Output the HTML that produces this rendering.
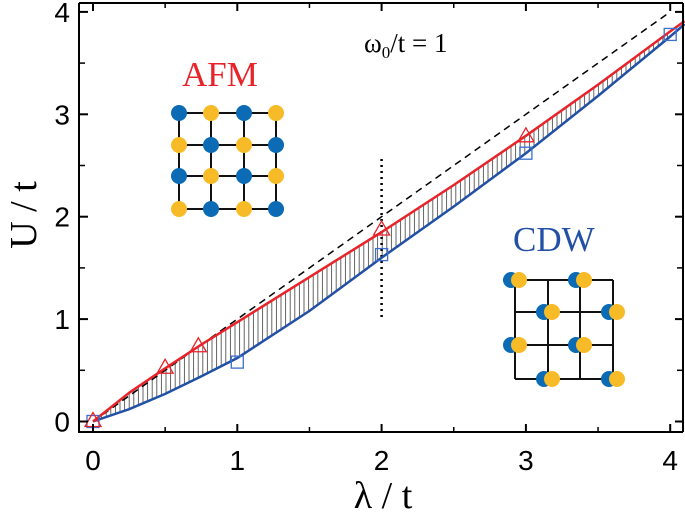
<!DOCTYPE html>
<html><head><meta charset="utf-8"><style>
body{margin:0;background:#fff}
svg{display:block}
</style></head><body>
<svg id="chart" width="685" height="514" viewBox="0 0 685 514" xmlns="http://www.w3.org/2000/svg">
<g id="hatch"></g>
<g id="curves"></g>
<g id="marks"></g>
<g id="axes"></g>
<text x="364" y="52" font-family="Liberation Serif, serif" font-size="27">ω<tspan font-size="17" dy="6">0</tspan><tspan dy="-6">/t = 1</tspan></text>
<text x="182" y="86" font-family="Liberation Serif, serif" font-size="35" fill="#e8232a">AFM</text>
<text x="513" y="251" font-family="Liberation Serif, serif" font-size="35" fill="#2150a4">CDW</text>
<g id="afm"></g>
<g id="cdw"></g>
<text transform="translate(36,215) rotate(-90)" text-anchor="middle" font-family="Liberation Serif, serif" font-size="38">U / t</text>
<text x="383" y="508" text-anchor="middle" font-family="Liberation Serif, serif" font-size="38">λ / t</text>
</svg>
<script>
const xTicks=[0,1,2,3,4];
const yTicks=[0,1,2,3,4];
const afmCurveX=[0,0.25,0.5,0.75,1,1.5,2,2.5,3,3.5,4,4.1];
const afmCurveY=[0,0.28,0.52,0.75,0.97,1.41,1.85,2.31,2.79,3.29,3.81,3.91];
const cdwCurveX=[0,0.25,0.5,0.75,1,1.5,2,2.5,3,3.5,4,4.1];
const cdwCurveY=[0,0.12,0.27,0.44,0.62,1.08,1.6,2.1,2.62,3.18,3.76,3.88];
const afmPtsX=[0,0.5,0.73,2,3];
const afmPtsY=[0,0.52,0.73,1.87,2.78];
const cdwPtsX=[0,1,2,3,4];
const cdwPtsY=[0,0.58,1.63,2.62,3.78];
const NS='http://www.w3.org/2000/svg';
const X=v=>93+v*144.3, Y=v=>421.5-v*102.4;
function mk(p,t,a){const e=document.createElementNS(NS,t);for(const k in a)e.setAttribute(k,a[k]);p.appendChild(e);return e;}
function interp(xs,ys,x){for(let i=0;i<xs.length-1;i++){if(x<=xs[i+1]){const f=(x-xs[i])/(xs[i+1]-xs[i]);return ys[i]+f*(ys[i+1]-ys[i]);}}return ys[ys.length-1];}
const hatch=document.getElementById('hatch');
for(let px=X(0)+4;px<X(4.0);px+=4.6){const v=(px-93)/144.3;
 const l=mk(hatch,'line',{x1:px,x2:px,y1:Y(interp(afmCurveX,afmCurveY,v)),y2:Y(interp(cdwCurveX,cdwCurveY,v)),stroke:'#555','stroke-width':0.9});
 
 }
const curves=document.getElementById('curves');
let d=mk(curves,'line',{x1:X(0),y1:Y(0),x2:X(4),y2:Y(4.0),stroke:'#000','stroke-width':1.5,'stroke-dasharray':'7,5'});


let dv=mk(curves,'line',{x1:X(2),y1:Y(1.02),x2:X(2),y2:Y(2.6),stroke:'#000','stroke-width':2.5,'stroke-dasharray':'2,4'});


function pathOf(xs,ys){return xs.map((x,i)=>(i?'L':'M')+X(x).toFixed(1)+','+Y(ys[i]).toFixed(1)).join('');}
let c1=mk(curves,'path',{d:pathOf(cdwCurveX,cdwCurveY),fill:'none',stroke:'#2150a4','stroke-width':2.5});


let c2=mk(curves,'path',{d:pathOf(afmCurveX,afmCurveY),fill:'none',stroke:'#e8232a','stroke-width':2.5});


const marks=document.getElementById('marks');
cdwPtsX.forEach((x,i)=>{const cx=X(x),cy=Y(cdwPtsY[i]);
 const r=mk(marks,'rect',{x:cx-6,y:cy-6,width:12,height:12,fill:'none',stroke:'#3b6fd0','stroke-width':1.3});
 
 });
afmPtsX.forEach((x,i)=>{const cx=X(x),cy=Y(afmPtsY[i]);
 const t=mk(marks,'polygon',{points:`${cx},${cy-9} ${cx-8},${cy+5} ${cx+8},${cy+5}`,fill:'none',stroke:'#e8232a','stroke-width':1.3});
 
 });
const ax=document.getElementById('axes');
let fr=mk(ax,'path',{d:'M79,3 V432 H683',fill:'none',stroke:'#000','stroke-width':2});


mk(ax,'line',{x1:79,y1:3,x2:683,y2:3,stroke:'#000','stroke-width':2});
mk(ax,'line',{x1:683,y1:3,x2:683,y2:432,stroke:'#000','stroke-width':2});
xTicks.forEach(v=>{const x=X(v);
 mk(ax,'line',{x1:x,x2:x,y1:432,y2:424,stroke:'#000','stroke-width':2});
 mk(ax,'line',{x1:x,x2:x,y1:3,y2:11,stroke:'#000','stroke-width':2});
 if(v<4){const xm=X(v+0.5);mk(ax,'line',{x1:xm,x2:xm,y1:432,y2:427,stroke:'#000','stroke-width':1.5});mk(ax,'line',{x1:xm,x2:xm,y1:3,y2:8,stroke:'#000','stroke-width':1.5});}
 const t=mk(ax,'text',{x:x,y:470,'text-anchor':'middle','font-family':'Liberation Sans, sans-serif','font-size':28});t.textContent=v;
 
 });
yTicks.forEach(v=>{const y=Y(v);
 mk(ax,'line',{x1:79,x2:88,y1:y,y2:y,stroke:'#000','stroke-width':2});
 mk(ax,'line',{x1:683,x2:675,y1:y,y2:y,stroke:'#000','stroke-width':2});
 if(v<4){const ym=Y(v+0.5);mk(ax,'line',{x1:79,x2:85,y1:ym,y2:ym,stroke:'#000','stroke-width':1.5});mk(ax,'line',{x1:683,x2:677,y1:ym,y2:ym,stroke:'#000','stroke-width':1.5});}
 const t=mk(ax,'text',{x:70,y:y+10,'text-anchor':'end','font-family':'Liberation Sans, sans-serif','font-size':28});t.textContent=v;
 
 });
const BL='#0b6bb5',YL='#f6bb27';
const afm=document.getElementById('afm');
const gx=[179,211,244,276],gy=[113,145,176,209];
gx.forEach(x=>mk(afm,'line',{x1:x,x2:x,y1:gy[0],y2:gy[3],stroke:'#111','stroke-width':2}));
gy.forEach(y=>mk(afm,'line',{x1:gx[0],x2:gx[3],y1:y,y2:y,stroke:'#111','stroke-width':2}));
gy.forEach((y,j)=>gx.forEach((x,i)=>mk(afm,'circle',{cx:x,cy:y,r:8,fill:(i+j)%2?YL:BL})));
const cdw=document.getElementById('cdw');
const hx=[515,548,580,613],hy=[280,312,345,379];
hx.forEach(x=>mk(cdw,'line',{x1:x,x2:x,y1:hy[0],y2:hy[3],stroke:'#111','stroke-width':2}));
hy.forEach(y=>mk(cdw,'line',{x1:hx[0],x2:hx[3],y1:y,y2:y,stroke:'#111','stroke-width':2}));
hy.forEach((y,j)=>hx.forEach((x,i)=>{if((i+j)%2==0){mk(cdw,'circle',{cx:x-4,cy:y,r:8,fill:BL});mk(cdw,'circle',{cx:x+4,cy:y,r:8,fill:YL});}}));
</script>
</body></html>
